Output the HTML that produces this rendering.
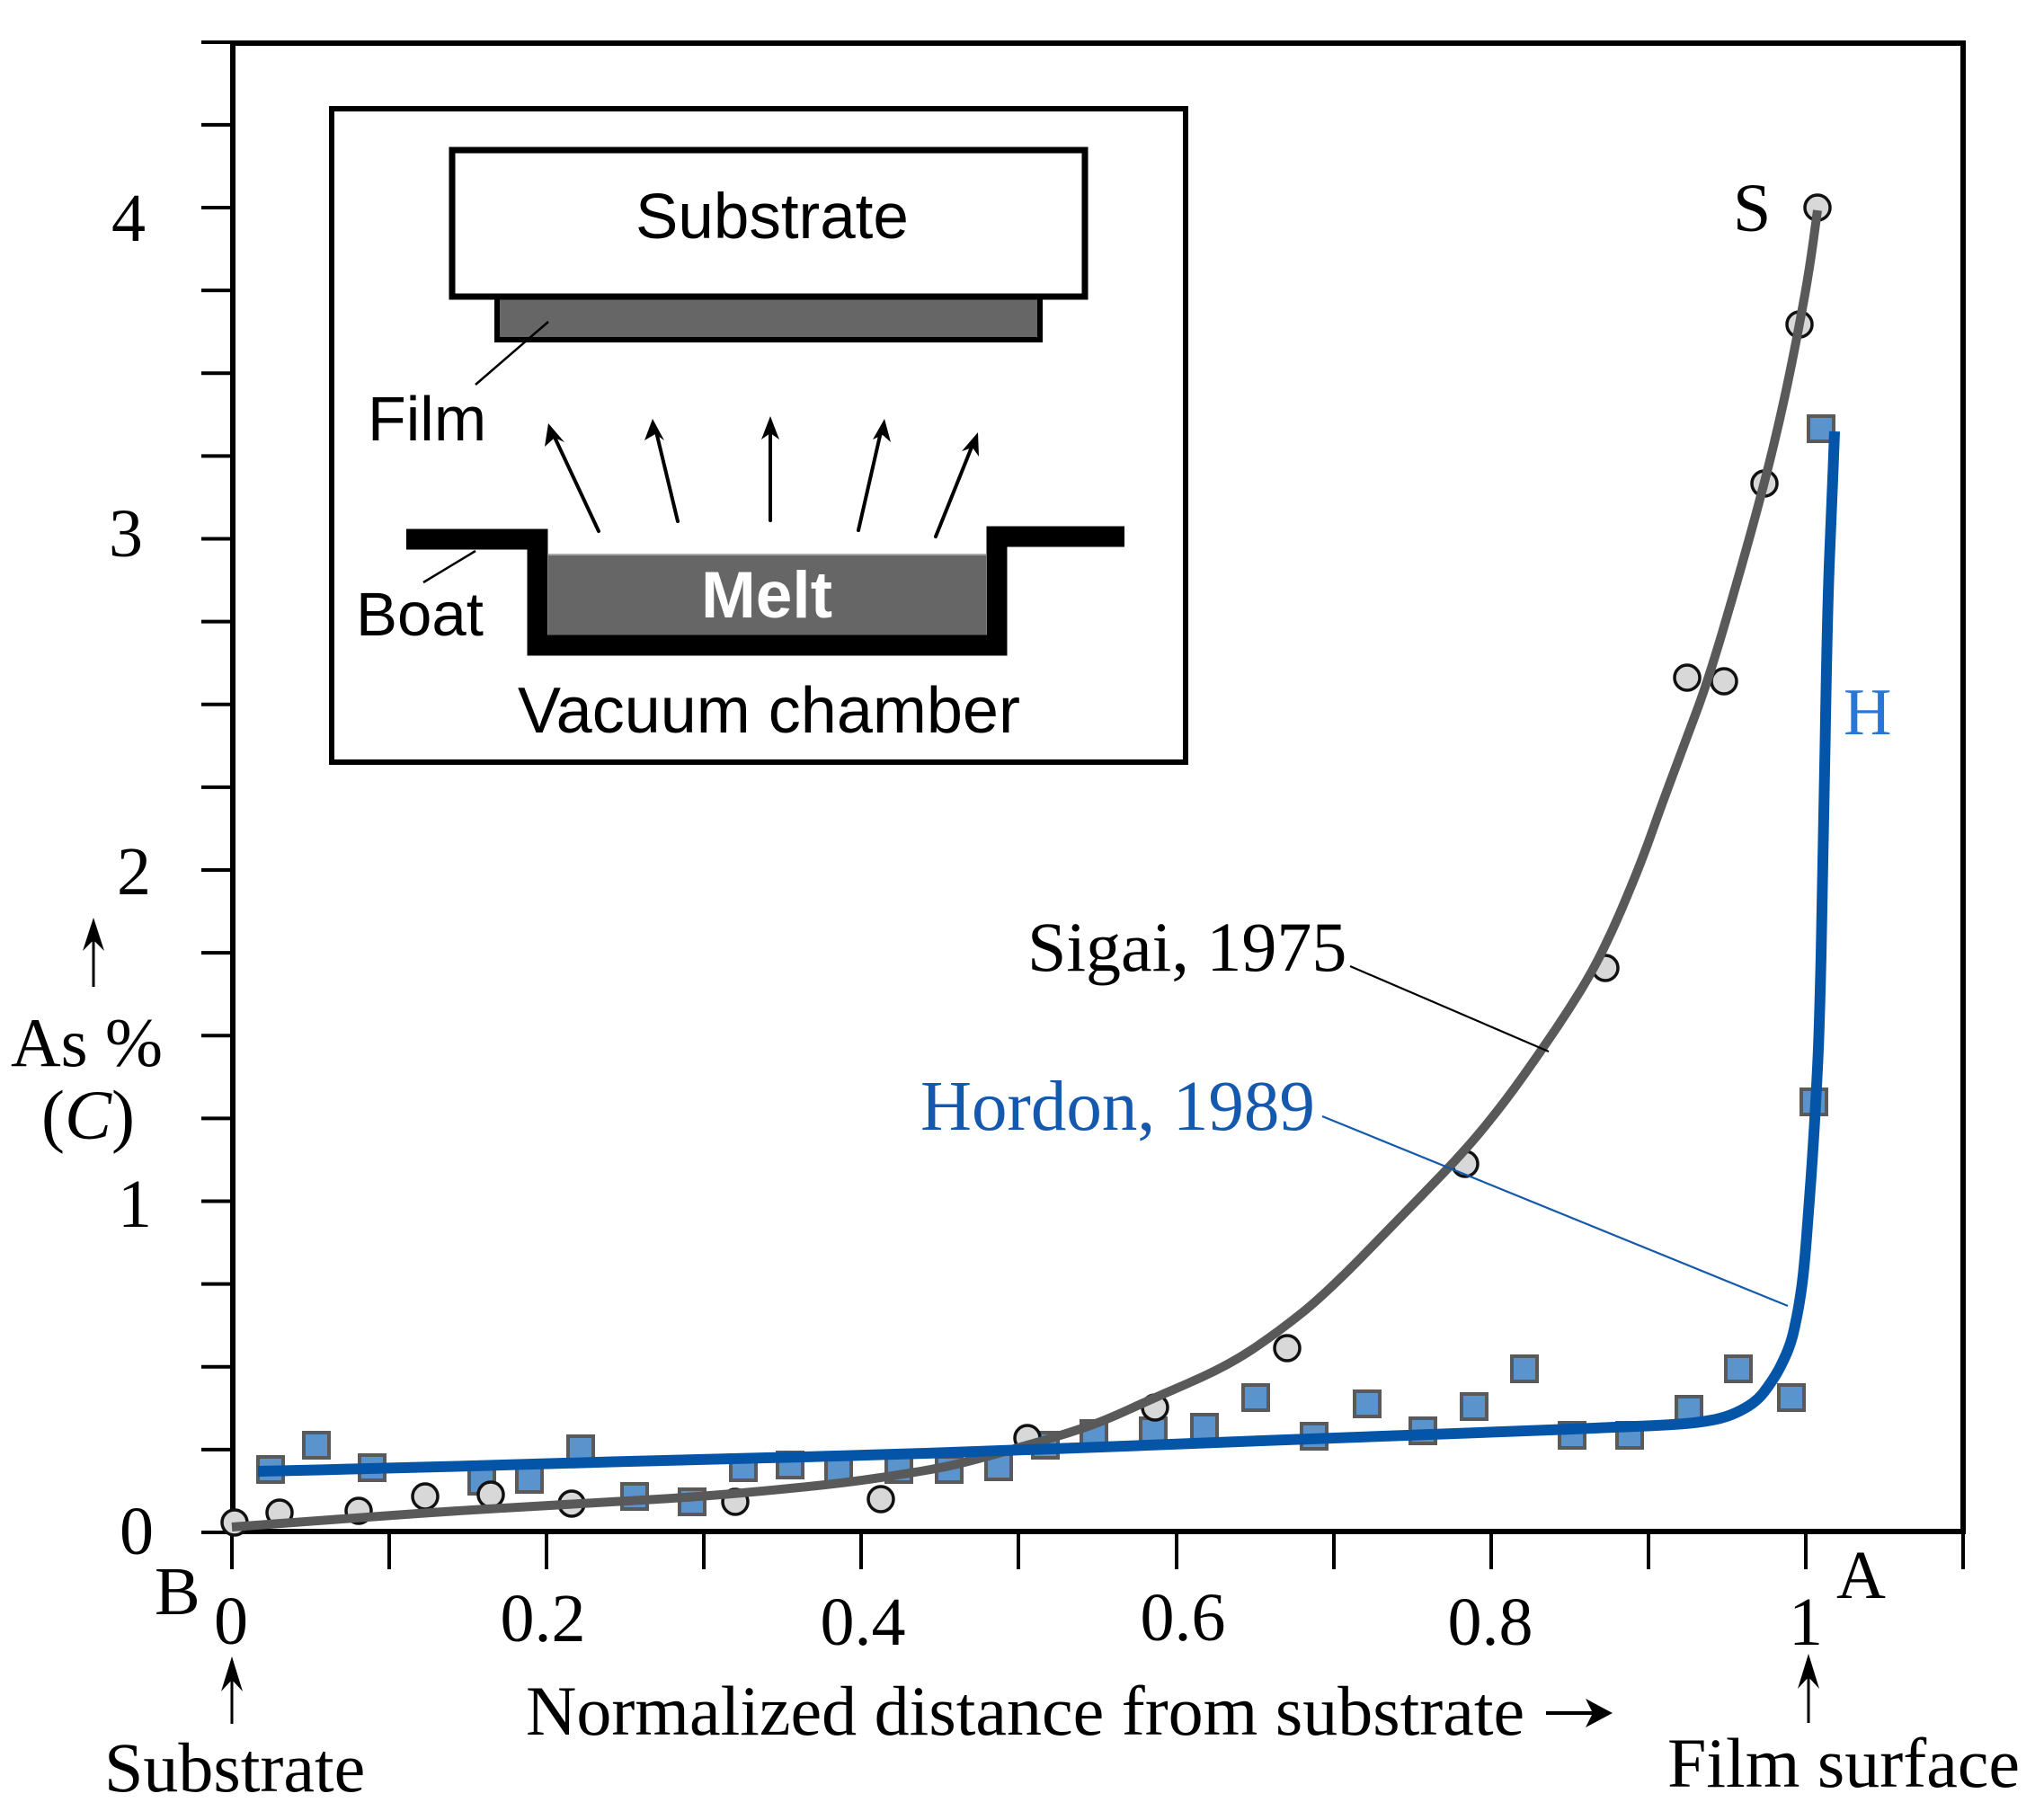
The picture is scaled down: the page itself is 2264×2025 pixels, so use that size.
<!DOCTYPE html>
<html>
<head>
<meta charset="utf-8">
<style>
  html, body { margin:0; padding:0; background:#ffffff; }
  svg { display:block; }
</style>
</head>
<body>
<svg xmlns="http://www.w3.org/2000/svg" width="2264" height="2025" viewBox="0 0 2264 2025">
  <rect x="0" y="0" width="2264" height="2025" fill="#ffffff"/>

  <!-- Plot frame -->
  <rect x="259" y="48" width="1925" height="1656" fill="none" stroke="#000" stroke-width="6"/>

  <!-- Y ticks (every 0.25) -->
  <g stroke="#000" stroke-width="4">
    <line x1="224" y1="47" x2="259" y2="47"/>
    <line x1="224" y1="138.9" x2="259" y2="138.9"/>
    <line x1="224" y1="231" x2="259" y2="231"/>
    <line x1="224" y1="323.1" x2="259" y2="323.1"/>
    <line x1="224" y1="415.25" x2="259" y2="415.25"/>
    <line x1="224" y1="507.4" x2="259" y2="507.4"/>
    <line x1="224" y1="599.5" x2="259" y2="599.5"/>
    <line x1="224" y1="691.6" x2="259" y2="691.6"/>
    <line x1="224" y1="783.75" x2="259" y2="783.75"/>
    <line x1="224" y1="875.9" x2="259" y2="875.9"/>
    <line x1="224" y1="968" x2="259" y2="968"/>
    <line x1="224" y1="1060.1" x2="259" y2="1060.1"/>
    <line x1="224" y1="1152.25" x2="259" y2="1152.25"/>
    <line x1="224" y1="1244.4" x2="259" y2="1244.4"/>
    <line x1="224" y1="1336.5" x2="259" y2="1336.5"/>
    <line x1="224" y1="1428.6" x2="259" y2="1428.6"/>
    <line x1="224" y1="1520.75" x2="259" y2="1520.75"/>
    <line x1="224" y1="1612.9" x2="259" y2="1612.9"/>
    <line x1="224" y1="1705" x2="259" y2="1705"/>
  </g>
  <!-- X ticks (every 0.1) -->
  <g stroke="#000" stroke-width="4">
    <line x1="258" y1="1704" x2="258" y2="1746"/>
    <line x1="433" y1="1704" x2="433" y2="1746"/>
    <line x1="608" y1="1704" x2="608" y2="1746"/>
    <line x1="783" y1="1704" x2="783" y2="1746"/>
    <line x1="958" y1="1704" x2="958" y2="1746"/>
    <line x1="1133" y1="1704" x2="1133" y2="1746"/>
    <line x1="1309" y1="1704" x2="1309" y2="1746"/>
    <line x1="1484" y1="1704" x2="1484" y2="1746"/>
    <line x1="1659" y1="1704" x2="1659" y2="1746"/>
    <line x1="1834" y1="1704" x2="1834" y2="1746"/>
    <line x1="2009" y1="1704" x2="2009" y2="1746"/>
    <line x1="2184" y1="1704" x2="2184" y2="1746"/>
  </g>

  <!-- Y tick labels -->
  <g font-family="'Liberation Serif', serif" font-size="76" fill="#000" text-anchor="middle">
    <text x="143" y="268">4</text>
    <text x="140" y="619">3</text>
    <text x="149" y="995">2</text>
    <text x="150" y="1365">1</text>
    <text x="152" y="1729">0</text>
  </g>

  <!-- X tick labels -->
  <g font-family="'Liberation Serif', serif" font-size="76" fill="#000" text-anchor="middle">
    <text x="257" y="1829">0</text>
    <text x="604" y="1826">0.2</text>
    <text x="960" y="1830">0.4</text>
    <text x="1316" y="1825">0.6</text>
    <text x="1658" y="1830">0.8</text>
    <text x="2009" y="1830">1</text>
  </g>
  <text x="172" y="1796" font-family="'Liberation Serif', serif" font-size="76" fill="#000">B</text>
  <text x="2043" y="1778" font-family="'Liberation Serif', serif" font-size="76" fill="#000">A</text>

  <!-- Y axis label -->
  <line x1="104" y1="1098" x2="104" y2="1030" stroke="#000" stroke-width="3"/>
  <path d="M104,1021 L116,1058 L104,1046 L92,1058 Z" fill="#000"/>
  <text x="12" y="1186" font-family="'Liberation Serif', serif" font-size="77" fill="#000">As %</text>
  <text x="46" y="1267" font-family="'Liberation Serif', serif" font-size="78" fill="#000">(<tspan font-style="italic">C</tspan>)</text>

  <!-- X axis label and arrows -->
  <line x1="258" y1="1918" x2="258" y2="1852" stroke="#000" stroke-width="3"/>
  <path d="M258,1843 L270,1882 L258,1869 L246,1882 Z" fill="#000"/>
  <line x1="2012" y1="1917" x2="2012" y2="1849" stroke="#000" stroke-width="3"/>
  <path d="M2012,1840 L2024,1879 L2012,1866 L2000,1879 Z" fill="#000"/>
  <text x="585" y="1930" font-family="'Liberation Serif', serif" font-size="78" fill="#000">Normalized distance from substrate</text>
  <line x1="1720" y1="1906" x2="1782" y2="1906" stroke="#000" stroke-width="4"/>
  <path d="M1794,1906 L1764,1890 L1772,1906 L1764,1922 Z" fill="#000"/>
  <text x="116" y="1993" font-family="'Liberation Serif', serif" font-size="78" fill="#000">Substrate</text>
  <text x="1855" y="1988" font-family="'Liberation Serif', serif" font-size="78" fill="#000">Film surface</text>

  <!-- Inset diagram -->
  <rect x="369" y="121" width="950" height="727" fill="#fff" stroke="#000" stroke-width="6"/>
  <rect x="553" y="330" width="604" height="48" fill="#666" stroke="#000" stroke-width="6"/>
  <rect x="503" y="167" width="704" height="163" fill="#fff" stroke="#000" stroke-width="7"/>
  <text x="707" y="265" font-family="'Liberation Sans', sans-serif" font-size="71" fill="#000">Substrate</text>
  <line x1="610" y1="358" x2="529" y2="428" stroke="#000" stroke-width="2.5"/>
  <text x="409" y="490" font-family="'Liberation Sans', sans-serif" font-size="70" fill="#000">Film</text>

  <!-- Evaporation arrows -->
  <g stroke="#000" stroke-width="4" fill="none" stroke-linecap="round">
    <line x1="666" y1="591" x2="614" y2="480"/>
    <line x1="754" y1="580" x2="729" y2="476"/>
    <line x1="857" y1="579" x2="857" y2="473"/>
    <line x1="955" y1="590" x2="981" y2="476"/>
    <line x1="1041" y1="597" x2="1084" y2="490"/>
  </g>
  <g fill="#000">
    <path d="M610,471 L628,492 L617,487 L606,497 Z"/>
    <path d="M726,466 L739,490 L729,483 L717,490 Z"/>
    <path d="M857,463 L867,489 L857,482 L847,489 Z"/>
    <path d="M984,466 L991,492 L982,484 L971,489 Z"/>
    <path d="M1088,481 L1089,508 L1082,498 L1070,502 Z"/>
  </g>

  <!-- Melt & boat -->
  <rect x="610" y="616" width="487" height="92" fill="#666"/>
  <line x1="610" y1="617" x2="1097" y2="617" stroke="#aaa" stroke-width="2"/>
  <path d="M452,600 H598 V718 H1109 V597 H1251" fill="none" stroke="#000" stroke-width="23" stroke-linejoin="miter"/>
  <text x="780" y="687" font-family="'Liberation Sans', sans-serif" font-weight="bold" font-size="73" fill="#fff">Melt</text>
  <line x1="529" y1="613" x2="471" y2="648" stroke="#000" stroke-width="2.5"/>
  <text x="396" y="707" font-family="'Liberation Sans', sans-serif" font-size="69" fill="#000">Boat</text>
  <text x="576" y="815" font-family="'Liberation Sans', sans-serif" font-size="72" fill="#000">Vacuum chamber</text>

  <!-- Hordon squares -->
  <g fill="#5b93cc" stroke="#5a5a5a" stroke-width="4">
    <rect x="287" y="1621" width="28" height="28"/>
    <rect x="338" y="1594" width="28" height="28"/>
    <rect x="400" y="1619" width="28" height="28"/>
    <rect x="522" y="1634" width="28" height="28"/>
    <rect x="575" y="1632" width="28" height="28"/>
    <rect x="632" y="1598" width="28" height="28"/>
    <rect x="692" y="1651" width="28" height="28"/>
    <rect x="756" y="1657" width="28" height="28"/>
    <rect x="813" y="1619" width="28" height="28"/>
    <rect x="865" y="1616" width="28" height="28"/>
    <rect x="919" y="1622" width="28" height="28"/>
    <rect x="986" y="1621" width="28" height="28"/>
    <rect x="1042" y="1621" width="28" height="28"/>
    <rect x="1097" y="1618" width="28" height="28"/>
    <rect x="1149" y="1594" width="28" height="28"/>
    <rect x="1203" y="1581" width="28" height="28"/>
    <rect x="1269" y="1578" width="28" height="28"/>
    <rect x="1326" y="1574" width="28" height="28"/>
    <rect x="1383" y="1541" width="28" height="28"/>
    <rect x="1448" y="1584" width="28" height="28"/>
    <rect x="1507" y="1548" width="28" height="28"/>
    <rect x="1569" y="1578" width="28" height="28"/>
    <rect x="1626" y="1551" width="28" height="28"/>
    <rect x="1682" y="1509" width="28" height="28"/>
    <rect x="1735" y="1583" width="28" height="28"/>
    <rect x="1799" y="1583" width="28" height="28"/>
    <rect x="1865" y="1554" width="28" height="28"/>
    <rect x="1920" y="1509" width="28" height="28"/>
    <rect x="1979" y="1541" width="28" height="28"/>
    <rect x="2004" y="1212" width="28" height="28"/>
    <rect x="2012" y="463" width="28" height="28"/>
  </g>

  <!-- Sigai circles -->
  <g fill="#d8d8d8" stroke="#111" stroke-width="3.5">
    <circle cx="261" cy="1694" r="14"/>
    <circle cx="311" cy="1683" r="14"/>
    <circle cx="399" cy="1681" r="14"/>
    <circle cx="473" cy="1665" r="14"/>
    <circle cx="546" cy="1663" r="14"/>
    <circle cx="636" cy="1673" r="14"/>
    <circle cx="818" cy="1671" r="14"/>
    <circle cx="980" cy="1668" r="14"/>
    <circle cx="1143" cy="1600" r="14"/>
    <circle cx="1285" cy="1566" r="14"/>
    <circle cx="1432" cy="1500" r="14"/>
    <circle cx="1630" cy="1295" r="14"/>
    <circle cx="1786" cy="1077" r="14"/>
    <circle cx="1877" cy="754" r="14"/>
    <circle cx="1918" cy="758" r="14"/>
    <circle cx="1963" cy="538" r="14"/>
    <circle cx="2002" cy="361" r="14"/>
    <circle cx="2022" cy="231" r="14"/>
  </g>

  <!-- Sigai curve (smoothed) -->
  <path fill="none" stroke="#595959" stroke-width="10" stroke-linejoin="round"
    d="M258,1699 L299,1696 Q340,1693 381,1690 Q422,1687 465,1684 Q508,1681 551,1678.5 Q594,1676 637,1673.5 Q680,1671 723.5,1668.5 Q767,1666 808.5,1662.5 Q850,1659 894.5,1654.5 Q939,1650 969.5,1645.5 Q1000,1641 1027,1636.5 Q1054,1632 1077,1626 Q1100,1620 1125,1613 Q1150,1606 1170,1600 Q1190,1594 1209,1587.5 Q1228,1581 1256.5,1568 Q1285,1555 1302.5,1547.5 Q1320,1540 1337.5,1532 Q1355,1524 1370,1515.5 Q1385,1507 1397.5,1498.5 Q1410,1490 1423.5,1480 Q1437,1470 1450,1459.5 Q1463,1449 1481.5,1431.5 Q1500,1414 1516.5,1397 Q1533,1380 1556.5,1356 Q1580,1332 1605.5,1305.5 Q1631,1279 1653,1252 Q1675,1225 1695.5,1196 Q1716,1167 1730.5,1145.5 Q1745,1124 1758.5,1102 Q1772,1080 1783.5,1056.5 Q1795,1033 1806,1007 Q1817,981 1825,960.5 Q1833,940 1840,920 Q1847,900 1861,862.5 Q1875,825 1887.5,791.5 Q1900,758 1916,704 Q1932,650 1947.5,594 Q1963,538 1974,492 Q1985,446 1993.5,403.5 Q2002,361 2007.5,330.5 Q2013,300 2017.5,267 L2022,234"/>

  <!-- Hordon curve (smoothed) -->
  <path fill="none" stroke="#0454a8" stroke-width="12" stroke-linejoin="round"
    d="M287,1637 L354.5,1635.5 Q422,1634 508,1631.5 Q594,1629 680.5,1626.5 Q767,1624 853,1622 Q939,1620 1044.5,1616.5 Q1150,1613 1225,1610 Q1300,1607 1391.5,1603.5 Q1483,1600 1578.5,1596.5 Q1674,1593 1737,1590.5 Q1800,1588 1832.5,1586.5 Q1865,1585 1880,1583.5 Q1895,1582 1907.5,1579.5 Q1920,1577 1931,1572 Q1942,1567 1949.5,1561.5 Q1957,1556 1962,1549.5 Q1967,1543 1972,1535.5 Q1977,1528 1981.5,1519 Q1986,1510 1989,1502.5 Q1992,1495 1994,1487.5 Q1996,1480 1999,1465 Q2002,1450 2004.5,1431.5 Q2007,1413 2009.5,1381.5 Q2012,1350 2014.5,1315 Q2017,1280 2019,1245 Q2021,1210 2022.5,1178.5 Q2024,1147 2026,1063.5 Q2028,980 2030.5,828 Q2033,676 2035.5,618 Q2038,560 2039.5,520 L2041,480"/>

  <!-- Labels & leaders -->
  <text x="1928" y="257" font-family="'Liberation Serif', serif" font-size="76" fill="#000">S</text>
  <text x="2051" y="817" font-family="'Liberation Serif', serif" font-size="74" fill="#2a76d6">H</text>

  <text x="1143" y="1080" font-family="'Liberation Serif', serif" font-size="78" fill="#000">Sigai, 1975</text>
  <line x1="1502" y1="1075" x2="1723" y2="1170" stroke="#000" stroke-width="2.2"/>

  <text x="1024" y="1257" font-family="'Liberation Serif', serif" font-size="79" fill="#1459ad">Hordon, 1989</text>
  <line x1="1471" y1="1242" x2="1989" y2="1453" stroke="#1459ad" stroke-width="2.2"/>
</svg>
</body>
</html>
